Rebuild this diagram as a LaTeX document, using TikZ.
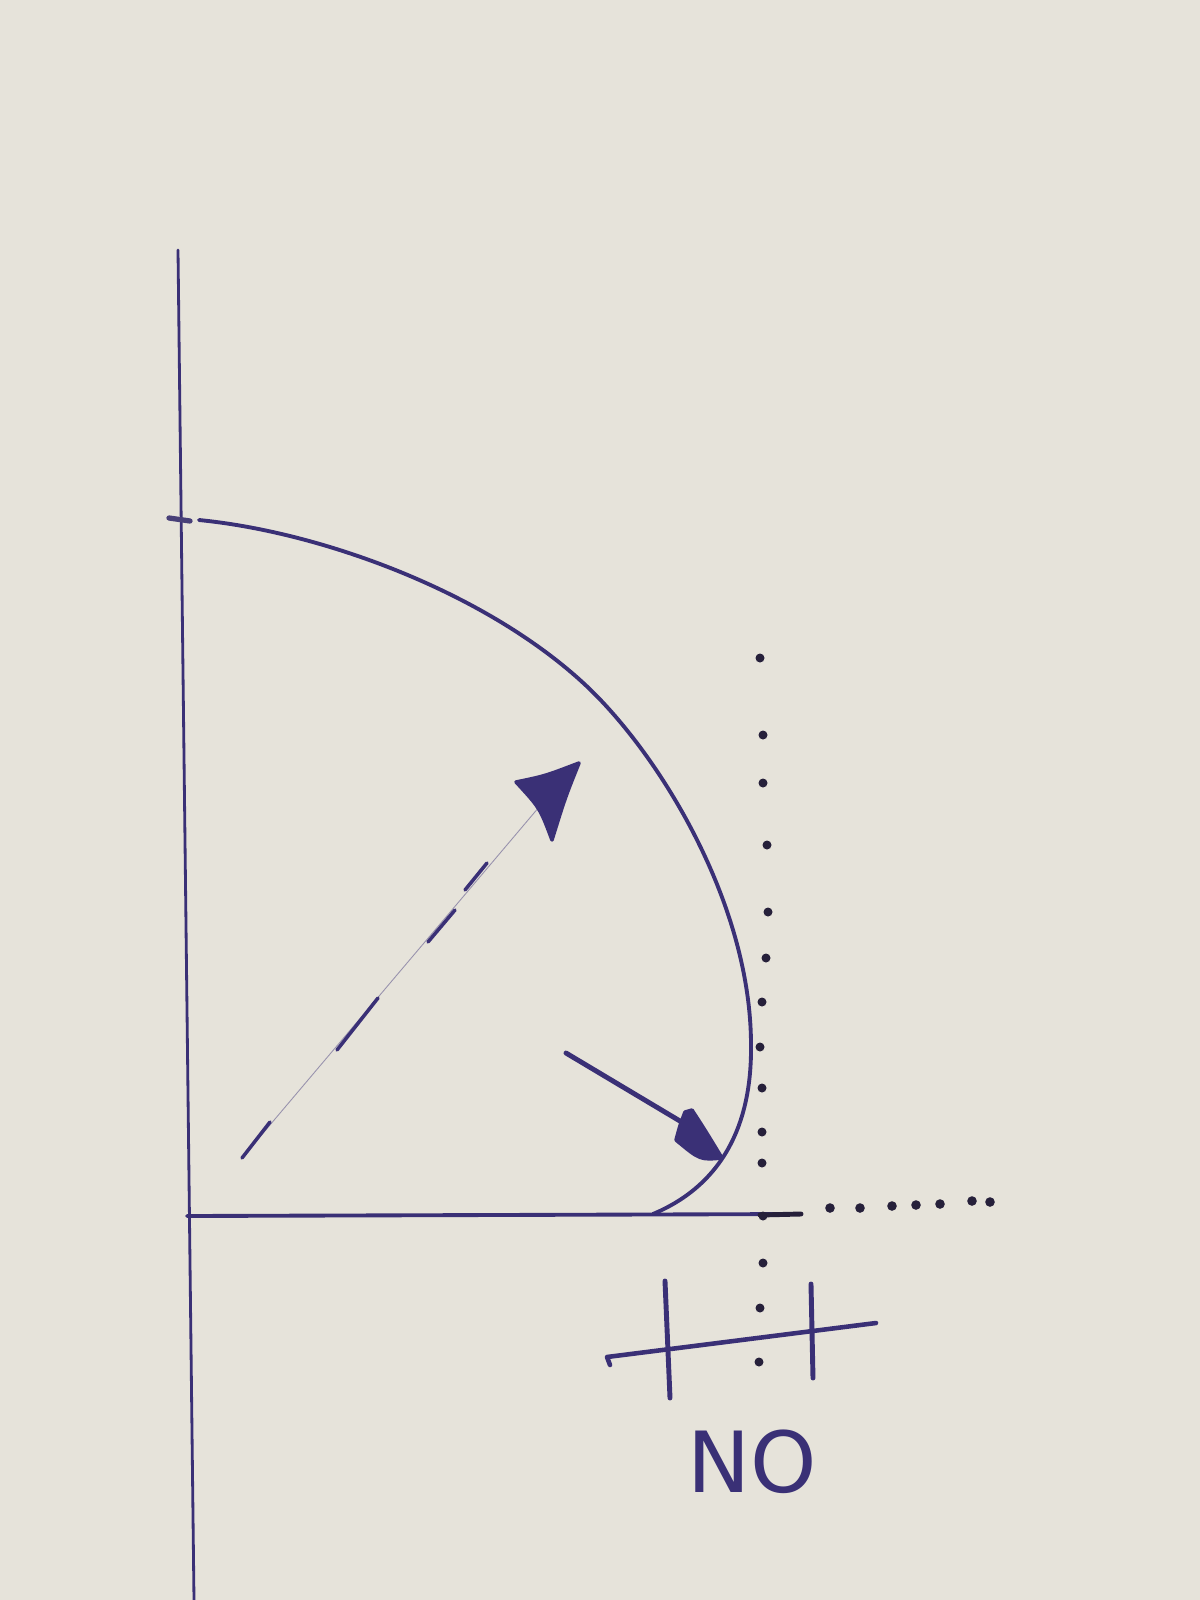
\documentclass[tikz,border=0pt]{standalone}
\usepackage{fontspec}
\setmainfont{DejaVu Sans}
\usetikzlibrary{arrows.meta}
\definecolor{paper}{RGB}{230,227,218}
\definecolor{ink}{RGB}{58,48,118}
\definecolor{darkink}{RGB}{38,32,58}
\tikzset{
  pen/.style={draw=ink, line width=2.2pt, line cap=round, line join=round},
  axispen/.style={draw=ink, line width=1.6pt, line cap=round},
  dashseg/.style={draw=ink, line width=2pt, line cap=round},
  dotmark/.style={fill=darkink, draw=none},
  headfill/.style={fill=ink, draw=ink, line width=2pt, line join=round},
}
\begin{document}
\begin{tikzpicture}[x=0.02cm, y=-0.02cm]
\useasboundingbox (0,0) rectangle (1200,1600);
\fill[paper] (0,0) rectangle (1200,1600);
% axes
\coordinate (vtop) at (178,250);
\coordinate (vbot) at (194,1600);
\coordinate (hl) at (187,1216);
\coordinate (hr) at (801,1214);
\draw[axispen] (vtop) -- (vbot);
\draw[pen] (hl) -- (hr);
\draw[pen, draw=darkink, line width=2.8pt] (760,1215) -- (hr);
\draw[pen, line width=3pt, draw=ink!80!gray] (169,518) -- (190,521);
% curve
\coordinate (ctop) at (199,520);
\coordinate (cmid) at (580,680);
\coordinate (cright) at (751,1045);
\coordinate (cbot) at (653,1214);
\draw[pen] (ctop) .. controls (320,532) and (480,590) .. (cmid)
  .. controls (655,747) and (751,900) .. (cright)
  .. controls (752,1125) and (722,1185) .. (cbot);
% dotted vertical guide
\foreach \x/\y in {760/658, 763/735, 763/783, 767/845, 768/912, 766/958, 762/1002,
  760/1047, 762/1088, 762/1132, 762/1163, 763/1216, 763/1263, 760/1308, 759/1362}
  \fill[dotmark] (\x,\y) circle[radius=4.5];
% dotted horizontal guide
\foreach \x/\y in {830/1208, 860/1208, 892/1206, 916/1205, 940/1204, 972/1201, 990/1202}
  \fill[dotmark] (\x,\y) circle[radius=4.8];
% dashed arrow
\coordinate (dstart) at (242,1158);
\coordinate (dend) at (545,800);
\draw[draw=ink, line width=0.5pt, opacity=0.45] (dstart) -- (dend);
\draw[dashseg] (242,1158) -- (270,1122);
\draw[dashseg] (337,1050) -- (378,998);
\draw[dashseg] (428,942) -- (455,910);
\draw[dashseg] (465,890) -- (487,863);
\fill[headfill] (516,782) .. controls (545,776) .. (579,763)
  .. controls (565,798) .. (552,840) .. controls (540,808) .. (516,782) -- cycle;
% solid arrow
\coordinate (sstart) at (566,1053);
\coordinate (send) at (690,1127);
\draw[pen, line width=2.8pt] (sstart) -- (send);
\fill[headfill] (676,1140) .. controls (680,1125) .. (685,1112) -- (692,1110)
  .. controls (705,1130) .. (722,1158) .. controls (700,1160) .. (676,1140) -- cycle;
% scale bar
\draw[pen, line width=2.6pt] (610,1365) -- (607,1357) -- (876,1323);
\draw[pen, line width=2.8pt] (665,1281) -- (670,1398);
\draw[pen, line width=2.8pt] (811,1284) -- (813,1378);
% label
\node[text=ink, font=\fontsize{48}{48}\selectfont] (lbl) at (752,1462) {NO};
\end{tikzpicture}
\end{document}
